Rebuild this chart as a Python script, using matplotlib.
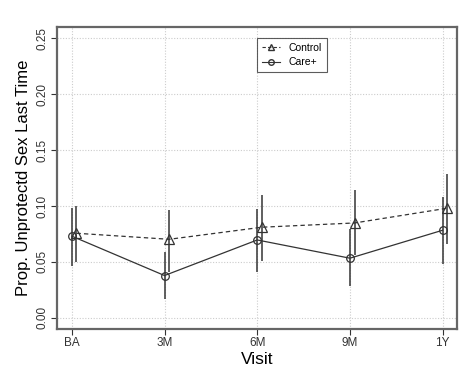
import matplotlib
matplotlib.use("Agg")
import matplotlib.pyplot as plt
from matplotlib.lines import Line2D
import numpy as np

plt.rcParams['font.family'] = ['Liberation Sans', 'DejaVu Sans']

visits = ["BA", "3M", "6M", "9M", "1Y"]
control = [0.0756, 0.0702, 0.0810, 0.0848, 0.0980]
control_lo = [0.0497, 0.0414, 0.0510, 0.0560, 0.0660]
control_hi = [0.1003, 0.0964, 0.1100, 0.1140, 0.1290]
care = [0.0730, 0.0378, 0.0696, 0.0533, 0.0783]
care_lo = [0.0467, 0.0167, 0.0408, 0.0286, 0.0485]
care_hi = [0.0980, 0.0586, 0.0973, 0.0790, 0.1078]
yticks = [0.00, 0.05, 0.10, 0.15, 0.20, 0.25]

fig = plt.figure(figsize=(4.74, 3.66), dpi=100)
ax = fig.add_axes([57/474, 1-329/366, 400/474, 302/366])

x = np.arange(1, len(visits)+1)
xc = x + 0.05
col = '#333333'

ax.vlines(x, care_lo, care_hi, color='#444444', lw=1.2, zorder=2)
ax.vlines(xc, control_lo, control_hi, color='#444444', lw=1.2, zorder=2)
ax.plot(xc, control, ls=(0, (3.5, 2.5)), color=col, lw=0.9, marker='^', ms=7,
        mfc='none', mec=col, mew=0.9, zorder=3)
ax.plot(x, care, ls='-', color=col, lw=0.9, marker='o', ms=5.5,
        mfc='none', mec=col, mew=0.9, zorder=3)

ax.set_xlim(0.84, 5.155)
ax.set_ylim(-0.01, 0.26)
ax.set_xticks(x)
ax.set_xticklabels(visits, fontsize=8.5)
ax.set_yticks(yticks)
ax.set_yticklabels([f"{v:.2f}" for v in yticks], fontsize=8.5, rotation=90, va='center')
ax.grid(True, color='#cccccc', ls=(0, (1, 1.5)), lw=0.8)
ax.set_axisbelow(True)
for s in ax.spines.values():
    s.set_color('#666666')
    s.set_linewidth(1.6)
ax.tick_params(colors='#333333', length=4, width=0.8, pad=2)
ax.set_xlabel("Visit", fontsize=12.5, labelpad=2)
ax.set_ylabel("Prop. Unprotectd Sex Last Time", fontsize=12, labelpad=4)

handles = [Line2D([], [], ls=(0, (3, 2)), color=col, lw=0.8, marker='^', ms=5, mfc='none', mec=col),
           Line2D([], [], ls='-', color=col, lw=0.8, marker='o', ms=4, mfc='none', mec=col)]
leg = ax.legend(handles, ["Control", "Care+"], loc='upper left', bbox_to_anchor=(200/400, 1-11/302),
                fontsize=7.5, frameon=True, fancybox=False, handlelength=1.8, handletextpad=0.8,
                borderpad=0.45, labelspacing=0.45, borderaxespad=0)
leg.get_frame().set_edgecolor('#333333')
leg.get_frame().set_linewidth(0.8)

fig.savefig("out.png", dpi=100)
